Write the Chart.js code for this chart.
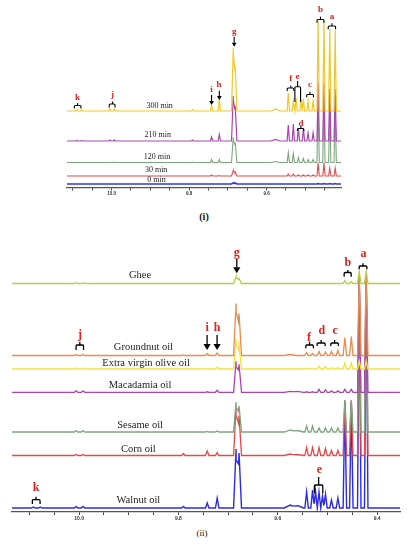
<!DOCTYPE html>
<html>
<head>
<meta charset="utf-8">
<script src="https://cdn.jsdelivr.net/npm/chart.js@4.4.1/dist/chart.umd.min.js"></script>
<style>
  html, body { margin: 0; padding: 0; background: #fff; }
  body { width: 407px; height: 550px; position: relative; overflow: hidden; }
  canvas { position: absolute; left: 0; }
  #c1 { top: 0; }
  #c2 { top: 240px; }
  .cap { position: absolute; font-family: "Liberation Serif", serif; color: #111; line-height: 1; transform: translateX(-50%); }
</style>
</head>
<body>
<canvas id="c1" width="407" height="200"></canvas>
<canvas id="c2" width="407" height="284"></canvas>
<div class="cap" style="left:204px; top:212px; font-size:10px; font-weight:bold;">(i)</div>
<div class="cap" style="left:202px; top:529px; font-size:9px;">(ii)</div>
<script>
// ---------- panel (i): aldehyde region vs. heating time ----------
const times = ['300 min', '210 min', '120 min', '30 min', '0 min'];
// peak shifts (ppm): k k j j . i h g g hump f f e d e d c c b b a a
const peaks1 = [10.090, 10.077, 10.004, 9.993, 9.791, 9.742, 9.722, 9.686, 9.681, 9.577,
  9.544, 9.531, 9.524, 9.518, 9.511, 9.505, 9.493, 9.480, 9.467, 9.452, 9.437, 9.423];
const base1 = [77, 47, 25.5, 12, 4];
const h300 = [1, 1, 2, 2, 1.5, 5.5, 12, 63, 45, 2, 18, 10, 13, 0, 12, 12, 10, 10, 90, 90, 82, 81];
const h210 = [0.5, 0.5, 1, 1, 1, 4, 6.5, 45, 35, 1.5, 16, 17, 0, 13, 0, 13, 8, 8, 58, 58, 52, 52];
const h120 = [0, 0, 0.5, 0.5, 0.5, 3, 3, 25, 20, 1, 10, 9, 0, 5, 0, 4, 3, 3, 60, 60, 52, 52];
const h30 = [0, 0, 0, 0, 0, 1, 0.5, 5.5, 4, 0, 2, 2, 0, 1, 0, 1, 1, 1, 13, 13, 8, 8];
const h0 = [0, 0, 0, 0, 0, 0, 0, 1, 1, 0, 0, 0, 0, 0, 0, 0, 0, 0, 0.5, 0.5, 0.5, 0.5];
const heights1 = [h300, h210, h120, h30, h0];
const ticks1 = [10.10, 10.05, 10.00, 9.95, 9.90, 9.85, 9.80, 9.75, 9.70, 9.65, 9.60, 9.55, 9.50, 9.45];

// ---------- panel (ii): different oils ----------
const oils = ['Ghee', 'Groundnut oil', 'Extra virgin olive oil', 'Macadamia oil', 'Sesame oil', 'Corn oil', 'Walnut oil'];
// peak shifts (ppm): k k j j . i h g g hump hump f . . d . d c c b b a a
const peaks2 = [10.092, 10.078, 10.006, 9.992, 9.790, 9.742, 9.722, 9.684, 9.678, 9.575, 9.560,
  9.542, 9.530, 9.524, 9.517, 9.510, 9.504, 9.492, 9.479, 9.465, 9.452, 9.436, 9.422];
const base2 = [228.5, 156.5, 143, 119.7, 80, 56.5, 4];
const hGhee = [0, 0, 0.6, 0.6, 0, 0, 0, 7, 5, 0, 0, 0, 0, 0, 0, 0, 0, 0, 0, 3, 2, 12, 12];
const hGroundnut = [0, 0, 1, 1, 0.5, 2, 2.5, 52, 42, 1, 0, 3, 2, 0, 4, 0, 3.5, 4, 5, 18, 19, 82, 82];
const hOlive = [0, 0, 1, 1, 0, 0.5, 2, 30, 24, 0, 0, 1, 0.5, 0, 3, 0, 2.5, 1.5, 1.5, 6, 6, 8, 8];
const hMacadamia = [0, 0, 1.5, 1.5, 0, 0.5, 2, 31, 28, 1, 1, 0.5, 0.5, 0, 3, 0, 2.5, 1.5, 1.5, 3, 3, 116, 116];
const hSesame = [0, 0, 1.5, 1.5, 0, 0.5, 1, 30, 26, 2, 1.5, 6, 6, 0, 4, 0, 4, 4, 4, 32, 32, 154, 154];
const hCorn = [0, 0, 1, 1, 2, 4.5, 3, 48, 40, 1.5, 1, 8, 8, 0, 8, 0, 7, 5, 5, 55, 55, 176, 176];
const hWalnut = [1, 1, 1.5, 1.5, 1.5, 5, 10, 59, 55, 3, 2.5, 16, 18, 17, 16, 12, 14, 8, 10, 106, 106, 226, 226];
const heights2 = [hGhee, hGroundnut, hOlive, hMacadamia, hSesame, hCorn, hWalnut];
const ticks2 = [10.10, 10.05, 10.00, 9.95, 9.90, 9.85, 9.80, 9.75, 9.70, 9.65, 9.60, 9.55, 9.50, 9.45, 9.40];

const labelled = [10.0, 9.8, 9.6, 9.4];

// peak half widths (ppm), drawing only
function halfWidths(peaks, narrow, wide, broad) {
  return peaks.map(p => (p > 9.67 && p < 9.69) ? wide : (p > 9.555 && p < 9.58) ? broad : narrow);
}

function curve(peaks, widths, heights, base, lo, hi) {
  const xs = [lo, hi];
  peaks.forEach((p, i) => { if (heights[i] > 0) xs.push(p - widths[i], p, p + widths[i]); });
  xs.sort((a, b) => a - b);
  return xs.map(x => {
    let y = base;
    peaks.forEach((p, i) => {
      const d = Math.abs(x - p) / widths[i];
      if (d < 1) y += heights[i] * (1 - d);
    });
    return { x, y };
  });
}

function notes(cfg) {
  return {
    id: 'notes',
    afterDatasetsDraw(chart) {
      const { ctx, scales: { x, y } } = chart;
      const px = v => x.getPixelForValue(v), py = v => y.getPixelForValue(v);
      ctx.save();
      ctx.textAlign = 'center';
      ctx.textBaseline = 'middle';
      ctx.fillStyle = '#222';
      ctx.font = cfg.labelFont;
      cfg.names.forEach((t, i) => ctx.fillText(t, px(cfg.nameAt[i][0]), py(cfg.nameAt[i][1])));
      ctx.strokeStyle = '#000';
      ctx.fillStyle = '#000';
      ctx.lineWidth = cfg.markWidth;
      cfg.arrows.forEach(a => {
        const cx = px(a[0]), y0 = py(a[1]), y1 = py(a[2]);
        ctx.beginPath();
        ctx.moveTo(cx, y0);
        ctx.lineTo(cx, y1 - cfg.head);
        ctx.stroke();
        ctx.beginPath();
        ctx.moveTo(cx - cfg.head * 0.6, y1 - cfg.head);
        ctx.lineTo(cx + cfg.head * 0.6, y1 - cfg.head);
        ctx.lineTo(cx, y1);
        ctx.closePath();
        ctx.fill();
      });
      cfg.braces.forEach(b => {
        const cx = px(b[0]), xl = px(b[1]), xr = px(b[2]);
        const yt = py(b[3]), yb = py(b[4]), yl = py(b[5]);
        ctx.beginPath();
        ctx.moveTo(cx, yt);
        ctx.lineTo(cx, yb);
        ctx.moveTo(xl, yl);
        ctx.lineTo(xl, yb + 1);
        ctx.quadraticCurveTo(xl, yb, xl + 1, yb);
        ctx.lineTo(xr - 1, yb);
        ctx.quadraticCurveTo(xr, yb, xr, yb + 1);
        ctx.lineTo(xr, yl);
        ctx.stroke();
      });
      ctx.fillStyle = '#e3211c';
      ctx.font = cfg.letterFont;
      cfg.letters.forEach(l => ctx.fillText(l[0], px(l[1]), py(l[2])));
      ctx.restore();
    }
  };
}

function makeChart(id, o) {
  const widths = halfWidths(o.peaks, o.narrow, o.wide, o.broad);
  new Chart(document.getElementById(id), {
    type: 'line',
    data: {
      datasets: o.names.map((name, i) => ({
        label: name,
        data: curve(o.peaks, widths, o.heights[i], o.base[i], o.lo, o.hi),
        borderColor: o.colors[i],
        borderWidth: o.lineWidths[i],
        pointRadius: 0,
        tension: 0,
        fill: false
      }))
    },
    options: {
      responsive: false,
      animation: false,
      layout: { padding: o.padding },
      plugins: { legend: { display: false }, tooltip: { enabled: false } },
      scales: {
        x: {
          type: 'linear',
          reverse: true,
          min: o.lo,
          max: o.hi,
          afterBuildTicks: s => { s.ticks = o.ticks.map(v => ({ value: v })); },
          afterFit: s => { s.height = 12; },
          ticks: {
            autoSkip: false,
            maxRotation: 0,
            padding: 1,
            color: '#333',
            font: { size: o.tickSize, weight: 'bold', family: 'Liberation Sans' },
            callback: v => labelled.some(l => Math.abs(l - v) < 1e-6) ? v.toFixed(1) : ''
          },
          grid: { drawOnChartArea: false, drawTicks: true, tickLength: o.tickLen, color: '#444', lineWidth: 1 },
          border: { color: '#555', width: 1.3 }
        },
        y: { display: false, min: 0, max: o.ymax }
      }
    },
    plugins: [notes(o.notes)]
  });
}

makeChart('c1', {
  names: times,
  peaks: peaks1, heights: heights1, base: base1,
  lo: 9.408, hi: 10.115, ymax: 178,
  narrow: 0.003, wide: 0.0045, broad: 0.012,
  colors: ['#f2c72c', '#a846ad', '#7ea57e', '#e4484a', '#3434e6'],
  lineWidths: [1.2, 1.2, 1.1, 1.1, 1.6],
  padding: { left: 67, right: 66, top: 10, bottom: 0 },
  ticks: ticks1, tickSize: 4.5, tickLen: 2.5,
  notes: {
    labelFont: '8px "Liberation Serif"',
    letterFont: 'bold 9px "Liberation Serif"',
    markWidth: 1.1, head: 4,
    names: times,
    nameAt: [[9.876, 82], [9.881, 53.5], [9.883, 31.5], [9.885, 18], [9.884, 8.5]],
    letters: [['k', 10.0877, 90.5], ['j', 9.9974, 93.7], ['i', 9.742, 98.7], ['h', 9.723, 103],
      ['g', 9.6836, 156.3], ['f', 9.5375, 109.3], ['e', 9.520, 111.3], ['c', 9.488, 103],
      ['d', 9.5115, 64.7], ['b', 9.461, 178], ['a', 9.4315, 171.3]],
    arrows: [[9.742, 93, 83], [9.722, 97.3, 88], [9.6836, 151.3, 141.3]],
    braces: [[10.0877, 10.096, 10.079, 85, 82.5, 79.5],
      [9.9974, 10.006, 9.991, 86.5, 84, 80.5],
      [9.5375, 9.5468, 9.5297, 102.5, 100, 97],
      [9.520, 9.527, 9.5123, 107, 101.3, 86],
      [9.488, 9.4965, 9.479, 96.3, 93.5, 90.7],
      [9.5115, 9.5205, 9.504, 62, 59.5, 57],
      [9.461, 9.470, 9.452, 171.3, 168.5, 165.3],
      [9.4315, 9.441, 9.422, 164.7, 162, 158.7]]
  }
});

makeChart('c2', {
  names: oils,
  peaks: peaks2, heights: heights2, base: base2,
  lo: 9.354, hi: 10.135, ymax: 267,
  narrow: 0.0035, wide: 0.005, broad: 0.012,
  colors: ['#b9cc45', '#eb8b4d', '#f2e43a', '#a846ad', '#7ea57e', '#e4484a', '#2b2be3'],
  lineWidths: [1.3, 1.3, 1.3, 1.3, 1.3, 1.3, 1.4],
  padding: { left: 12, right: 7, top: 5, bottom: 0 },
  ticks: ticks2, tickSize: 5, tickLen: 3,
  notes: {
    labelFont: '10.5px "Liberation Serif"',
    letterFont: 'bold 12px "Liberation Serif"',
    markWidth: 1.3, head: 6,
    names: oils,
    nameAt: [[9.8772, 237], [9.8705, 164.3], [9.8651, 148.7], [9.8772, 127], [9.8772, 87], [9.8806, 63], [9.8806, 12]],
    letters: [['g', 9.6825, 258.7], ['b', 9.4589, 249.3], ['a', 9.4275, 258], ['j', 9.998, 176.7],
      ['i', 9.7423, 184], ['h', 9.7222, 184], ['f', 9.537, 173.7], ['d', 9.5114, 181.3],
      ['c', 9.4846, 181.3], ['e', 9.5162, 42], ['k', 10.0866, 23.7]],
    arrows: [[9.6825, 253, 238.7], [9.7423, 177, 162], [9.7222, 177, 162]],
    braces: [[9.4589, 9.4664, 9.4523, 242, 239.5, 235.3],
      [9.4285, 9.4362, 9.4207, 248.7, 246, 242.7],
      [9.9985, 10.006, 9.991, 170.3, 167, 162],
      [9.536, 9.5436, 9.5283, 170.3, 167, 163.7],
      [9.5127, 9.5208, 9.5047, 172, 169, 166],
      [9.4856, 9.4933, 9.478, 172, 169, 166],
      [9.5178, 9.5263, 9.5094, 35, 27, 18.7],
      [10.0866, 10.094, 10.0785, 15.3, 12.3, 8]]
  }
});
</script>
</body>
</html>
